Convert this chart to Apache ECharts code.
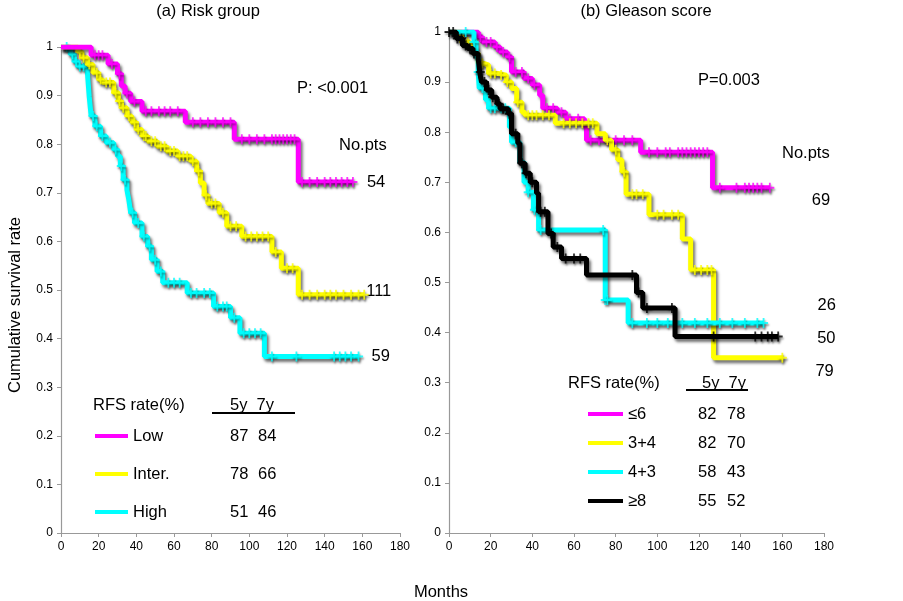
<!DOCTYPE html>
<html><head><meta charset="utf-8">
<script src="https://cdn.jsdelivr.net/npm/echarts@6/dist/echarts.min.js"></script>
<style>html,body{margin:0;padding:0;background:#fff}#c{width:903px;height:601px}</style>
</head><body><div id="c"></div>
<script>
// ---------- data ----------
const panelTitles = ['(a) Risk group', '(b) Gleason score'];
const pValues = ['P: <0.001', 'P=0.003'];
const yAxisTitle = 'Cumulative survival rate';
const xAxisTitle = 'Months';
const xTickMax = 180, xTickStep = 20;

// (a) Risk group: Kaplan-Meier steps [month, survival]
const riskNames = ['Low', 'Inter.', 'High'];
const riskNpts = [54, 111, 59];
const riskRfs5y = [87, 78, 51];
const riskRfs7y = [84, 66, 46];
const lowSteps = [[0,1],[16,0.983],[25,0.965],[30,0.945],[32,0.92],[34,0.905],[37,0.888],[43,0.868],[66,0.845],[92,0.81],[126,0.722],[155,0.722]];
const interSteps = [[0,1],[9,0.99],[11,0.978],[14,0.964],[17,0.947],[20,0.933],[22,0.927],[28,0.906],[30.5,0.889],[32,0.875],[35,0.858],[37.5,0.845],[40,0.83],[43,0.817],[46,0.806],[51,0.796],[56,0.786],[62,0.775],[69,0.765],[72,0.745],[74,0.72],[76,0.695],[78,0.678],[84,0.659],[88,0.631],[96,0.61],[112,0.578],[117,0.545],[126,0.49],[161,0.49]];
const highSteps = [[0,1],[5,0.985],[7,0.97],[9,0.96],[14,0.948],[15,0.897],[16,0.858],[18,0.837],[21,0.817],[24,0.803],[28,0.789],[30,0.775],[31.5,0.755],[33,0.727],[35,0.706],[36,0.686],[37,0.659],[39,0.638],[43,0.61],[46,0.59],[48,0.562],[51,0.538],[54,0.515],[67,0.494],[81,0.466],[90,0.443],[95,0.411],[108,0.363],[158,0.363]];
const lowCensor = [18,20,22,27,31,35,39,45,48,52,55,58,62,70,74,78,82,86,90,96,100,104,108,112,114,116,118,120,122,124,128,132,136,140,143,146,149,152,155];
const interCensor = [10,12,15,19,21,24,26,29,31,33,36,39,41,44,45,48,50,53,55,58,60,63,65,67,70,73,77,80,82,86,90,93,98,101,104,107,110,114,120,123,128,132,136,140,143,146,150,154,158,161];
const highCensor = [3,6,8,10,12,17,19,22,26,29,32,34,38,41,44,47,50,53,57,60,63,69,72,76,79,83,86,88,92,97,100,103,106,112,125,145,148,151,154,158];

// (b) Gleason score
const gsNames = ['\u22646', '3+4', '4+3', '\u22658'];
const gsNpts = [69, 79, 26, 50];
const gsRfs5y = [82, 82, 58, 55];
const gsRfs7y = [78, 70, 43, 52];
const gs6Steps = [[0,1],[14,0.99],[16,0.98],[22,0.97],[24.5,0.96],[28,0.95],[30,0.92],[36,0.907],[40,0.894],[43.5,0.874],[45,0.848],[52,0.84],[56,0.827],[65,0.812],[66,0.784],[92,0.76],[126.5,0.689],[154,0.689]];
const gs34Steps = [[0,1],[6,0.98],[10,0.97],[12.5,0.957],[14,0.937],[17,0.934],[19,0.917],[23.5,0.914],[27.5,0.9],[30,0.887],[32.5,0.86],[35,0.84],[36.5,0.834],[51,0.818],[71,0.797],[75,0.784],[78,0.765],[81,0.745],[83,0.721],[85,0.676],[96,0.635],[112,0.587],[116,0.525],[127,0.35],[160.5,0.35]];
const gs43Steps = [[0,1],[12,0.98],[13,0.95],[14,0.92],[14.5,0.888],[17.5,0.865],[19,0.848],[29,0.81],[30,0.78],[34,0.74],[36,0.70],[38,0.68],[40.5,0.645],[43,0.605],[75,0.465],[86,0.419],[151,0.419]];
const gs8Steps = [[0,1],[3.5,0.987],[6.5,0.973],[9,0.967],[11.5,0.957],[14,0.947],[14.7,0.92],[15.6,0.9],[18,0.884],[20.5,0.87],[23,0.857],[24.5,0.847],[28.5,0.837],[30,0.797],[33,0.778],[34,0.738],[36.5,0.718],[39,0.70],[42,0.678],[43,0.641],[47.5,0.598],[50,0.571],[54,0.548],[66,0.515],[90,0.48],[93,0.449],[108.5,0.392],[158,0.392]];
const gs6Censor = [15,18,20,23,26,29,32,35,38,41,47,50,54,58,62,68,72,76,80,84,88,96,100,104,106,110,112,114,116,118,120,122,124,130,138,142,144,146,148,150,154];
const gs34Censor = [7,9,13,16,20,22,25,28,33,38,40,42,45,48,55,58,61,64,67,69,76,80,84,88,90,93,100,103,107,110,118,121,124,126,160];
const gs43Censor = [8,12,14,16,20,22,25,27,32,35,38,41,44,74,75,76,88,95,100,105,112,118,124,130,136,142,148,151];
const gs8Censor = [0,2,4,6,8,10,12,15,17,19,21,24,26,29,32,35,37,40,44,46,49,52,56,60,63,88,91,95,107,127,147,150,153,155,158];

// ---------- chart ----------
const FONT = 'Liberation Sans, Arial, sans-serif';
const FS = 16.5;
const PLUS = 'path://M4,0H6V4H10V6H6V10H4V6H0V4H4Z';
function survAt(steps, t) {
  let v = steps[0][1];
  for (const s of steps) { if (s[0] <= t) v = s[1]; }
  return v;
}
function kmSeries(name, steps, censor, color, idx, npts, offset, z) {
  return [{
    type: 'line', name, xAxisIndex: idx, yAxisIndex: idx, data: steps, step: 'end',
    color, showSymbol: false, symbol: 'none', z,
    lineStyle: { color, width: 5, shadowColor: 'rgba(0,0,0,0.55)', shadowBlur: 3, shadowOffsetX: 2, shadowOffsetY: 3 },
    endLabel: { show: true, formatter: String(npts), distance: 0, offset, color: '#000', fontSize: FS, fontFamily: FONT },
    emphasis: { disabled: true }, silent: true
  }, {
    type: 'scatter', name, xAxisIndex: idx, yAxisIndex: idx, z: z + 0.5,
    data: censor.map(t => [t, survAt(steps, t)]),
    symbol: PLUS, symbolSize: [9, 10], color,
    itemStyle: { color, shadowColor: 'rgba(0,0,0,0.45)', shadowBlur: 2, shadowOffsetX: 1, shadowOffsetY: 2 },
    emphasis: { disabled: true }, silent: true
  }];
}
const axisCommon = {
  axisLine: { show: true, lineStyle: { color: '#999', width: 1.2 } },
  axisTick: { show: true, length: 4, lineStyle: { color: '#999' } },
  splitLine: { show: false },
  axisLabel: { color: '#000', fontSize: 12, fontFamily: FONT }
};
const xAxis = [0, 1].map(i => Object.assign({ type: 'value', gridIndex: i, min: 0, max: xTickMax, interval: xTickStep }, axisCommon));
const yAxis = [0, 1].map(i => Object.assign({ type: 'value', gridIndex: i, min: 0, max: 1, interval: 0.1 }, axisCommon));

const colA = ['#ff00ff', '#ffff00', '#00ffff'];
const colB = ['#ff00ff', '#ffff00', '#00ffff', '#000000'];
const series = [].concat(
  kmSeries(riskNames[0], lowSteps, lowCensor, colA[0], 0, riskNpts[0], [14, 0], 5),
  kmSeries(riskNames[1], interSteps, interCensor, colA[1], 0, riskNpts[1], [2, -3], 4),
  kmSeries(riskNames[2], highSteps, highCensor, colA[2], 0, riskNpts[2], [13, 0], 3),
  kmSeries(gsNames[0], gs6Steps, gs6Censor, colB[0], 1, gsNpts[0], [42, 13], 3),
  kmSeries(gsNames[1], gs34Steps, gs34Censor, colB[1], 1, gsNpts[1], [32, 14], 4),
  kmSeries(gsNames[2], gs43Steps, gs43Censor, colB[2], 1, gsNpts[2], [54, -18], 5),
  kmSeries(gsNames[3], gs8Steps, gs8Censor, colB[3], 1, gsNpts[3], [39, 2], 6)
);

function legendFor(names, r5, r7, left, top, gap, nameW, aW, iw) {
  return {
    data: names.map(n => ({ name: n, icon: 'rect' })),
    orient: 'vertical', left, top, itemWidth: iw, itemHeight: 4, itemGap: gap,
    selectedMode: false,
    formatter: n => { const i = names.indexOf(n); return '{n|' + n + '}{a|' + r5[i] + '}{b|' + r7[i] + '}'; },
    textStyle: {
      color: '#000', fontSize: FS, fontFamily: FONT, lineHeight: 18,
      rich: {
        n: { width: nameW, fontSize: FS, fontFamily: FONT, color: '#000' },
        a: { width: aW, fontSize: FS, fontFamily: FONT, color: '#000' },
        b: { fontSize: FS, fontFamily: FONT, color: '#000' }
      }
    }
  };
}

function txt(x, y, text, opt) {
  return { type: 'text', x, y, silent: true,
    style: Object.assign({ text, fill: '#000', font: FS + 'px ' + FONT, textAlign: 'left', textVerticalAlign: 'middle' }, opt || {}) };
}
const graphic = [
  txt(208, 11, panelTitles[0], { textAlign: 'center' }),
  txt(646, 11, panelTitles[1], { textAlign: 'center' }),
  txt(297, 88, pValues[0]),
  txt(698, 80, pValues[1]),
  txt(339, 145, 'No.pts'),
  txt(782, 153, 'No.pts'),
  txt(93, 405, 'RFS rate(%)'),
  txt(230, 405, '5y  7y'),
  txt(568, 383, 'RFS rate(%)'),
  txt(702, 383, '5y  7y'),
  txt(441, 592, xAxisTitle, { textAlign: 'center' }),
  { type: 'text', x: 15, y: 305, rotation: Math.PI / 2, silent: true,
    style: { text: yAxisTitle, fill: '#000', font: FS + 'px ' + FONT, textAlign: 'center', textVerticalAlign: 'middle' } },
  { type: 'line', silent: true, shape: { x1: 212, y1: 413, x2: 295, y2: 413 }, style: { stroke: '#000', lineWidth: 2 } },
  { type: 'line', silent: true, shape: { x1: 686, y1: 390, x2: 748, y2: 390 }, style: { stroke: '#000', lineWidth: 2 } }
];

const chart = echarts.init(document.getElementById('c'), null, { renderer: 'canvas' });
chart.setOption({
  animation: false,
  backgroundColor: '#fff',
  grid: [
    { left: 61, top: 47, width: 339, height: 486 },
    { left: 449, top: 32, width: 375, height: 501 }
  ],
  xAxis, yAxis, series,
  legend: [
    legendFor(riskNames, riskRfs5y, riskRfs7y, 90, 422, 20, 97, 28, 33),
    legendFor(gsNames, gsRfs5y, gsRfs7y, 583, 400, 11, 70, 29, 35)
  ],
  graphic
});
</script></body></html>
